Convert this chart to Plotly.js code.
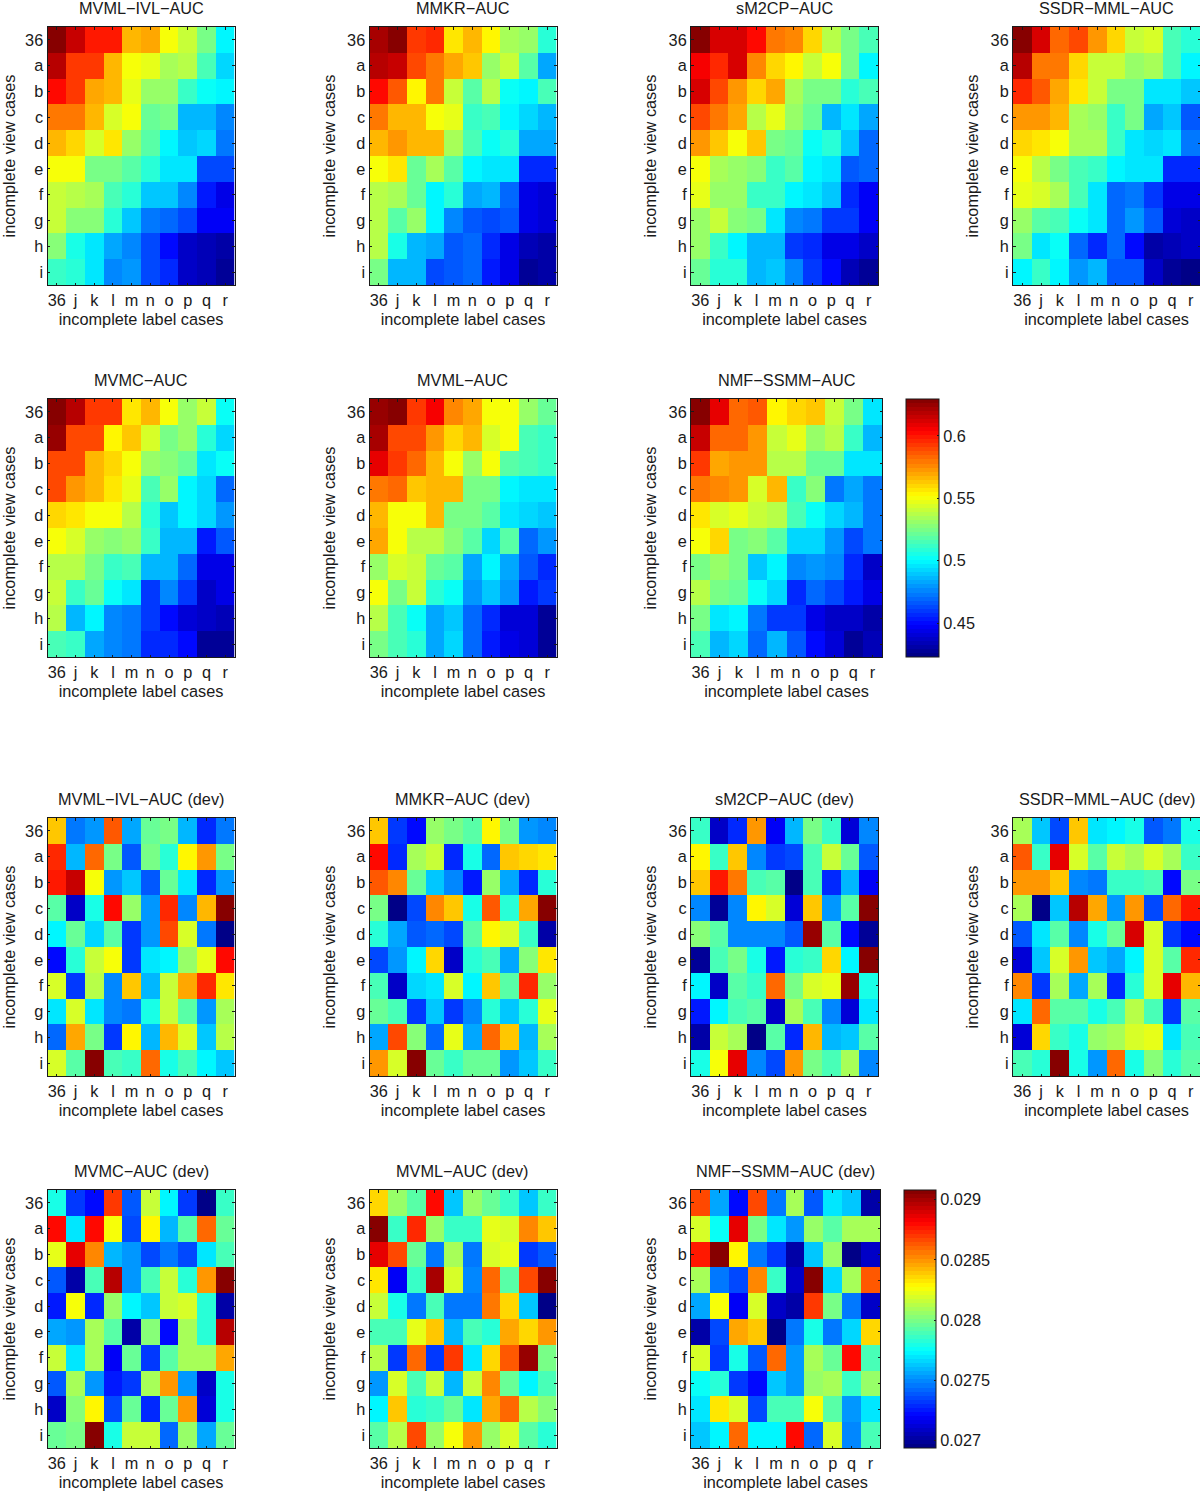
<!DOCTYPE html>
<html>
<head>
<meta charset="utf-8">
<script src="https://cdn.plot.ly/plotly-3.0.1.min.js"></script>
<style>body { margin: 0; background: #fff; }</style>
</head>
<body>
<div id="plot"></div>
<script>
const labelCases = ['36', 'j', 'k', 'l', 'm', 'n', 'o', 'p', 'q', 'r'];
const viewCases = ['36', 'a', 'b', 'c', 'd', 'e', 'f', 'g', 'h', 'i'];

const mvmlIvlAuc = [
    [.629,.614,.600,.600,.568,.570,.552,.540,.523,.500],
    [.617,.594,.594,.568,.552,.548,.533,.536,.514,.493],
    [.602,.591,.570,.568,.548,.532,.530,.511,.503,.500],
    [.581,.578,.568,.545,.552,.520,.526,.485,.487,.476],
    [.565,.561,.545,.557,.530,.517,.500,.489,.493,.472],
    [.550,.550,.526,.526,.517,.508,.497,.497,.464,.462],
    [.540,.537,.534,.514,.507,.489,.489,.475,.453,.443],
    [.540,.527,.527,.507,.490,.472,.470,.463,.447,.447],
    [.527,.504,.497,.481,.475,.464,.449,.436,.435,.430],
    [.511,.507,.497,.475,.478,.464,.458,.438,.433,.427],
];
const mmkrAuc = [
    [.623,.629,.594,.597,.557,.566,.555,.534,.530,.508],
    [.618,.614,.588,.581,.570,.563,.530,.540,.517,.483],
    [.602,.586,.555,.578,.541,.517,.538,.503,.500,.514],
    [.581,.566,.568,.552,.548,.511,.514,.500,.491,.485],
    [.568,.572,.565,.565,.534,.514,.503,.508,.483,.481],
    [.550,.557,.520,.534,.517,.498,.495,.497,.458,.456],
    [.536,.533,.520,.498,.507,.483,.485,.470,.443,.441],
    [.536,.517,.530,.500,.475,.467,.463,.467,.443,.440],
    [.538,.504,.487,.483,.467,.470,.456,.444,.433,.430],
    [.526,.487,.485,.463,.467,.469,.453,.444,.427,.430],
];
const sm2cpAuc = [
    [.629,.612,.612,.602,.581,.575,.561,.538,.523,.514],
    [.604,.597,.612,.575,.559,.555,.542,.552,.526,.500],
    [.611,.588,.572,.561,.570,.534,.526,.526,.508,.514],
    [.590,.581,.570,.536,.548,.530,.520,.485,.495,.483],
    [.572,.563,.552,.563,.526,.520,.503,.507,.489,.469],
    [.552,.534,.530,.527,.511,.517,.500,.495,.465,.469],
    [.546,.532,.532,.511,.513,.500,.497,.489,.456,.447],
    [.532,.540,.527,.523,.495,.475,.474,.460,.460,.447],
    [.532,.511,.500,.485,.485,.460,.456,.445,.443,.436],
    [.520,.507,.507,.485,.489,.476,.460,.449,.433,.427],
];
const ssdrMmlAuc = [
    [.629,.611,.584,.590,.572,.559,.542,.545,.514,.507],
    [.617,.581,.580,.561,.542,.542,.531,.534,.514,.500],
    [.597,.587,.570,.557,.540,.523,.523,.495,.495,.489],
    [.574,.574,.565,.534,.532,.511,.526,.481,.489,.467],
    [.561,.557,.552,.534,.534,.513,.497,.491,.497,.472],
    [.552,.538,.523,.514,.511,.500,.497,.497,.458,.458],
    [.546,.545,.534,.514,.497,.469,.472,.460,.443,.443],
    [.530,.517,.514,.503,.497,.470,.478,.465,.441,.436],
    [.526,.495,.503,.470,.458,.470,.449,.430,.433,.436],
    [.500,.511,.500,.480,.485,.467,.465,.438,.427,.425],
];
const mvmcAuc = [
    [.629,.619,.594,.594,.557,.565,.552,.531,.540,.503],
    [.626,.590,.590,.555,.563,.545,.526,.531,.507,.491],
    [.590,.590,.565,.561,.549,.532,.527,.520,.497,.503],
    [.590,.572,.568,.557,.547,.514,.532,.498,.491,.469],
    [.561,.557,.552,.552,.536,.507,.489,.499,.491,.480],
    [.549,.545,.532,.527,.530,.511,.485,.485,.452,.467],
    [.536,.536,.523,.511,.514,.487,.487,.470,.444,.445],
    [.541,.511,.520,.503,.497,.460,.475,.460,.438,.445],
    [.536,.487,.500,.475,.472,.460,.449,.439,.437,.435],
    [.514,.511,.483,.476,.474,.458,.458,.449,.427,.428],
];
const mvmlAuc = [
    [.626,.629,.594,.604,.575,.570,.552,.552,.532,.520],
    [.620,.590,.590,.572,.561,.568,.545,.549,.514,.511],
    [.607,.594,.584,.568,.552,.530,.549,.517,.514,.511],
    [.580,.583,.563,.566,.565,.523,.523,.498,.495,.497],
    [.566,.552,.552,.566,.523,.523,.517,.495,.491,.489],
    [.570,.552,.536,.536,.527,.517,.493,.517,.470,.478],
    [.532,.544,.541,.520,.517,.481,.500,.483,.467,.456],
    [.552,.523,.540,.507,.503,.478,.489,.480,.453,.459],
    [.536,.514,.503,.483,.489,.470,.456,.441,.441,.427],
    [.526,.514,.507,.483,.493,.470,.453,.445,.440,.428],
];
const nmfSsmmAuc = [
    [.629,.607,.584,.587,.555,.559,.563,.540,.526,.497],
    [.614,.584,.583,.572,.542,.547,.532,.538,.511,.487],
    [.594,.570,.572,.572,.538,.538,.520,.520,.497,.497],
    [.581,.577,.574,.545,.565,.511,.527,.472,.483,.474],
    [.557,.544,.547,.541,.538,.514,.503,.493,.487,.474],
    [.552,.559,.523,.527,.517,.493,.493,.480,.463,.472],
    [.526,.532,.526,.489,.499,.476,.480,.476,.456,.436],
    [.536,.523,.520,.503,.493,.456,.469,.463,.452,.444],
    [.526,.497,.500,.474,.460,.460,.445,.436,.436,.432],
    [.514,.485,.493,.469,.485,.467,.451,.440,.427,.433],
];

const mvmlIvlDev = [
    [.02839,.02747,.02751,.02864,.02755,.02797,.02800,.02760,.02730,.02747],
    [.02874,.02760,.02861,.02800,.02738,.02800,.02781,.02831,.02848,.02800],
    [.02877,.02892,.02827,.02751,.02764,.02738,.02797,.02770,.02730,.02751],
    [.02794,.02710,.02778,.02881,.02807,.02751,.02874,.02750,.02843,.02905],
    [.02774,.02797,.02766,.02794,.02733,.02751,.02867,.02818,.02745,.02695],
    [.02724,.02781,.02816,.02827,.02733,.02770,.02774,.02805,.02823,.02881],
    [.02820,.02733,.02813,.02748,.02841,.02760,.02816,.02846,.02874,.02833],
    [.02770,.02820,.02768,.02750,.02745,.02778,.02816,.02791,.02751,.02810],
    [.02742,.02846,.02800,.02733,.02831,.02760,.02844,.02820,.02764,.02813],
    [.02821,.02794,.02908,.02788,.02785,.02858,.02778,.02788,.02774,.02762],
];
const mmkrDev = [
    [.02839,.02733,.02724,.02807,.02800,.02794,.02831,.02800,.02751,.02748],
    [.02881,.02730,.02811,.02815,.02730,.02778,.02742,.02839,.02837,.02833],
    [.02864,.02853,.02797,.02762,.02748,.02727,.02805,.02757,.02730,.02781],
    [.02800,.02695,.02735,.02853,.02839,.02778,.02864,.02781,.02846,.02908],
    [.02781,.02757,.02738,.02742,.02736,.02791,.02831,.02820,.02785,.02703],
    [.02735,.02751,.02772,.02835,.02708,.02781,.02788,.02755,.02803,.02833],
    [.02788,.02710,.02766,.02770,.02821,.02774,.02841,.02791,.02872,.02807],
    [.02797,.02788,.02731,.02764,.02734,.02748,.02781,.02764,.02781,.02823],
    [.02757,.02865,.02803,.02742,.02823,.02757,.02858,.02839,.02760,.02810],
    [.02848,.02820,.02908,.02797,.02785,.02797,.02797,.02751,.02764,.02785],
];
const sm2cpDev = [
    [.02785,.02710,.02730,.02848,.02718,.02760,.02800,.02785,.02714,.02748],
    [.02831,.02785,.02839,.02748,.02733,.02735,.02788,.02816,.02797,.02740],
    [.02841,.02877,.02856,.02788,.02791,.02695,.02788,.02730,.02760,.02718],
    [.02748,.02700,.02748,.02831,.02818,.02714,.02841,.02751,.02794,.02908],
    [.02803,.02794,.02748,.02748,.02748,.02738,.02902,.02791,.02724,.02700],
    [.02700,.02788,.02800,.02778,.02727,.02781,.02785,.02835,.02774,.02908],
    [.02774,.02708,.02794,.02785,.02861,.02800,.02820,.02823,.02903,.02778],
    [.02727,.02774,.02788,.02791,.02708,.02810,.02788,.02748,.02714,.02768],
    [.02703,.02815,.02810,.02695,.02794,.02730,.02843,.02760,.02762,.02791],
    [.02778,.02827,.02886,.02748,.02736,.02848,.02800,.02788,.02810,.02750],
];
const ssdrMmlDev = [
    [.02811,.02762,.02736,.02839,.02768,.02772,.02778,.02738,.02745,.02778],
    [.02864,.02785,.02885,.02820,.02791,.02815,.02810,.02820,.02811,.02785],
    [.02848,.02851,.02839,.02748,.02745,.02785,.02785,.02788,.02724,.02800],
    [.02811,.02695,.02764,.02895,.02846,.02753,.02850,.02736,.02861,.02877],
    [.02738,.02770,.02791,.02750,.02778,.02797,.02889,.02820,.02734,.02721],
    [.02714,.02764,.02821,.02851,.02762,.02757,.02772,.02820,.02791,.02874],
    [.02854,.02734,.02811,.02755,.02808,.02730,.02781,.02820,.02885,.02844],
    [.02770,.02860,.02791,.02794,.02778,.02788,.02813,.02788,.02733,.02791],
    [.02714,.02835,.02785,.02778,.02805,.02808,.02818,.02823,.02770,.02788],
    [.02788,.02781,.02908,.02778,.02753,.02858,.02778,.02803,.02781,.02794],
];
const mvmcDev = [
    [.02778,.02731,.02724,.02869,.02738,.02815,.02774,.02731,.02695,.02785],
    [.02879,.02768,.02881,.02827,.02736,.02831,.02760,.02794,.02861,.02797],
    [.02823,.02886,.02853,.02760,.02751,.02736,.02745,.02736,.02768,.02788],
    [.02738,.02702,.02788,.02897,.02751,.02788,.02816,.02781,.02850,.02908],
    [.02727,.02827,.02728,.02807,.02774,.02764,.02815,.02818,.02781,.02703],
    [.02755,.02751,.02811,.02794,.02701,.02803,.02724,.02808,.02781,.02897],
    [.02815,.02768,.02811,.02718,.02797,.02733,.02794,.02810,.02810,.02846],
    [.02740,.02808,.02753,.02727,.02731,.02808,.02848,.02751,.02710,.02778],
    [.02708,.02803,.02831,.02735,.02797,.02730,.02797,.02848,.02712,.02778],
    [.02797,.02800,.02908,.02778,.02815,.02815,.02742,.02807,.02755,.02797],
];
const mvmlDev = [
    [.02835,.02805,.02791,.02881,.02764,.02807,.02797,.02785,.02764,.02785],
    [.02905,.02785,.02874,.02805,.02785,.02785,.02823,.02818,.02854,.02841],
    [.02885,.02867,.02797,.02745,.02810,.02745,.02820,.02823,.02734,.02738],
    [.02833,.02718,.02785,.02898,.02821,.02750,.02860,.02794,.02867,.02908],
    [.02815,.02778,.02745,.02788,.02745,.02745,.02856,.02837,.02762,.02695],
    [.02788,.02788,.02823,.02841,.02760,.02788,.02781,.02846,.02837,.02850],
    [.02813,.02733,.02858,.02733,.02869,.02770,.02835,.02864,.02902,.02800],
    [.02751,.02820,.02788,.02815,.02760,.02815,.02854,.02797,.02774,.02788],
    [.02774,.02841,.02781,.02785,.02797,.02770,.02846,.02861,.02813,.02803],
    [.02791,.02813,.02867,.02807,.02827,.02851,.02805,.02821,.02791,.02781],
];
const nmfSsmmDev = [
    [.02867,.02755,.02724,.02867,.02747,.02808,.02740,.02770,.02762,.02701],
    [.02821,.02775,.02886,.02800,.02768,.02751,.02807,.02794,.02810,.02811],
    [.02876,.02908,.02831,.02747,.02733,.02701,.02764,.02807,.02697,.02708],
    [.02810,.02747,.02736,.02853,.02785,.02709,.02905,.02766,.02811,.02864],
    [.02755,.02825,.02718,.02821,.02708,.02703,.02870,.02800,.02745,.02710],
    [.02702,.02735,.02846,.02841,.02695,.02745,.02779,.02745,.02766,.02835],
    [.02821,.02731,.02779,.02740,.02860,.02751,.02808,.02797,.02881,.02788],
    [.02777,.02784,.02734,.02724,.02762,.02751,.02807,.02810,.02785,.02807],
    [.02768,.02833,.02818,.02736,.02788,.02788,.02827,.02794,.02753,.02768],
    [.02764,.02772,.02860,.02772,.02772,.02879,.02742,.02818,.02750,.02788],
];

const aucRange = [ 0.4228, 0.6296 ];
const devRange = [ 0.02694, 0.02908 ];
const aucTicks = [ 0.45, 0.5, 0.55, 0.6 ];
const devTicks = [ 0.027, 0.0275, 0.028, 0.0285, 0.029 ];

const W = 1200;
const H = 1493;
const font = 'Liberation Sans, Arial, sans-serif';
const fontSize = 16.3;
const ink = '#1a1a1a';

// MATLAB jet(64), each level a flat band.
function jetScale() {
    const scale = [];
    const ramp = v => Math.max(0, Math.min(1, v));

    for (let i = 0; i < 64; i++) {
        const t = (i + 0.5) / 64;
        const r = ramp(Math.min(4 * t - 1.5, 4.5 - 4 * t));
        const g = ramp(Math.min(4 * t - 0.5, 3.5 - 4 * t));
        const b = ramp(Math.min(4 * t + 0.5, 2.5 - 4 * t));
        const color = `rgb(${Math.round(r * 255)},${Math.round(g * 255)},${Math.round(b * 255)})`;

        scale.push([ i / 64, color ], [ (i + 1) / 64, color ]);
    }

    return scale;
}

const colorscale = jetScale();

// Pixel boxes of the axes: left, right, top, bottom.
const panels = [
    { title: 'MVML\u2212IVL\u2212AUC', z: mvmlIvlAuc, range: aucRange, box: [ 47.5, 234.5, 27, 285 ] },
    { title: 'MMKR\u2212AUC', z: mmkrAuc, range: aucRange, box: [ 369.5, 556.5, 27, 285 ] },
    { title: 'sM2CP\u2212AUC', z: sm2cpAuc, range: aucRange, box: [ 691, 878, 27, 285 ] },
    { title: 'SSDR\u2212MML\u2212AUC', z: ssdrMmlAuc, range: aucRange, box: [ 1013, 1200, 27, 285 ] },
    { title: 'MVMC\u2212AUC', z: mvmcAuc, range: aucRange, box: [ 47.5, 234.5, 399, 657 ] },
    { title: 'MVML\u2212AUC', z: mvmlAuc, range: aucRange, box: [ 369.5, 556.5, 399, 657 ] },
    { title: 'NMF\u2212SSMM\u2212AUC', z: nmfSsmmAuc, range: aucRange, box: [ 691, 882, 399, 657 ],
        bar: { left: 906, width: 33, ticks: aucTicks, labels: [ '0.45', '0.5', '0.55', '0.6' ] } },
    { title: 'MVML\u2212IVL\u2212AUC (dev)', z: mvmlIvlDev, range: devRange, box: [ 47.5, 234.5, 818, 1076 ] },
    { title: 'MMKR\u2212AUC (dev)', z: mmkrDev, range: devRange, box: [ 369.5, 556.5, 818, 1076 ] },
    { title: 'sM2CP\u2212AUC (dev)', z: sm2cpDev, range: devRange, box: [ 691, 878, 818, 1076 ] },
    { title: 'SSDR\u2212MML\u2212AUC (dev)', z: ssdrMmlDev, range: devRange, box: [ 1013, 1200, 818, 1076 ] },
    { title: 'MVMC\u2212AUC (dev)', z: mvmcDev, range: devRange, box: [ 47.5, 234.5, 1190, 1448 ] },
    { title: 'MVML\u2212AUC (dev)', z: mvmlDev, range: devRange, box: [ 369.5, 556.5, 1190, 1448 ] },
    { title: 'NMF\u2212SSMM\u2212AUC (dev)', z: nmfSsmmDev, range: devRange, box: [ 691, 880, 1190, 1448 ],
        bar: { left: 904, width: 32, ticks: devTicks, labels: [ '0.027', '0.0275', '0.028', '0.0285', '0.029' ] } },
];

const layout = {
    width: W,
    height: H,
    margin: { l: 0, r: 0, t: 0, b: 0 },
    paper_bgcolor: '#fff',
    plot_bgcolor: '#fff',
    showlegend: false,
    font: { family: font, size: fontSize, color: ink },
    annotations: [],
    shapes: [],
};

const textFont = { family: font, size: fontSize, color: ink };
const axisStyle = {
    type: 'category',
    dtick: 1,
    tickangle: 0,
    showgrid: false,
    zeroline: false,
    showline: true,
    linecolor: ink,
    linewidth: 1,
    mirror: 'ticks',
    ticks: 'inside',
    ticklen: 2.5,
    tickcolor: ink,
    tickfont: textFont,
    fixedrange: true,
    automargin: false,
};

const data = panels.map(({ title, z, range, box: [ left, right, top, bottom ], bar }, index) => {
    const n = index + 1;

    layout[`xaxis${n}`] = {
        ...axisStyle,
        anchor: `y${n}`,
        domain: [ left / W, right / W ],
        title: { text: 'incomplete label cases', font: textFont, standoff: 6 },
    };
    layout[`yaxis${n}`] = {
        ...axisStyle,
        anchor: `x${n}`,
        domain: [ 1 - bottom / H, 1 - top / H ],
        autorange: 'reversed',
        title: { text: 'incomplete view cases', font: textFont, standoff: 7 },
    };
    layout.annotations.push({
        text: title,
        xref: 'paper',
        yref: 'paper',
        x: (left + right) / 2 / W,
        y: 1 - (top - 19) / H,
        xanchor: 'center',
        yanchor: 'middle',
        showarrow: false,
        font: textFont,
    });

    const trace = {
        type: 'heatmap',
        x: labelCases,
        y: viewCases,
        z,
        xaxis: `x${n}`,
        yaxis: `y${n}`,
        zmin: range[0],
        zmax: range[1],
        colorscale,
        showscale: Boolean(bar),
    };

    if (bar) {
        trace.colorbar = {
            x: bar.left / W,
            xanchor: 'left',
            xpad: 0,
            thickness: bar.width,
            thicknessmode: 'pixels',
            y: 1 - top / H,
            yanchor: 'top',
            ypad: 0,
            len: bottom - top,
            lenmode: 'pixels',
            outlinecolor: ink,
            outlinewidth: 1,
            ticks: 'inside',
            ticklen: 2.5,
            tickcolor: ink,
            tickmode: 'array',
            tickvals: bar.ticks,
            ticktext: bar.labels,
            tickfont: textFont,
        };

        // Plotly only ticks the right side of a colorbar; MATLAB ticks both.
        bar.ticks.forEach(tick => {
            const y = 1 - (bottom - (tick - range[0]) / (range[1] - range[0]) * (bottom - top)) / H;

            layout.shapes.push({
                type: 'line',
                xref: 'paper',
                yref: 'paper',
                x0: bar.left / W,
                x1: (bar.left + 2.5) / W,
                y0: y,
                y1: y,
                line: { color: ink, width: 1 },
            });
        });
    }

    return trace;
});

Plotly.newPlot('plot', data, layout, { displayModeBar: false, staticPlot: true });
</script>
</body>
</html>
